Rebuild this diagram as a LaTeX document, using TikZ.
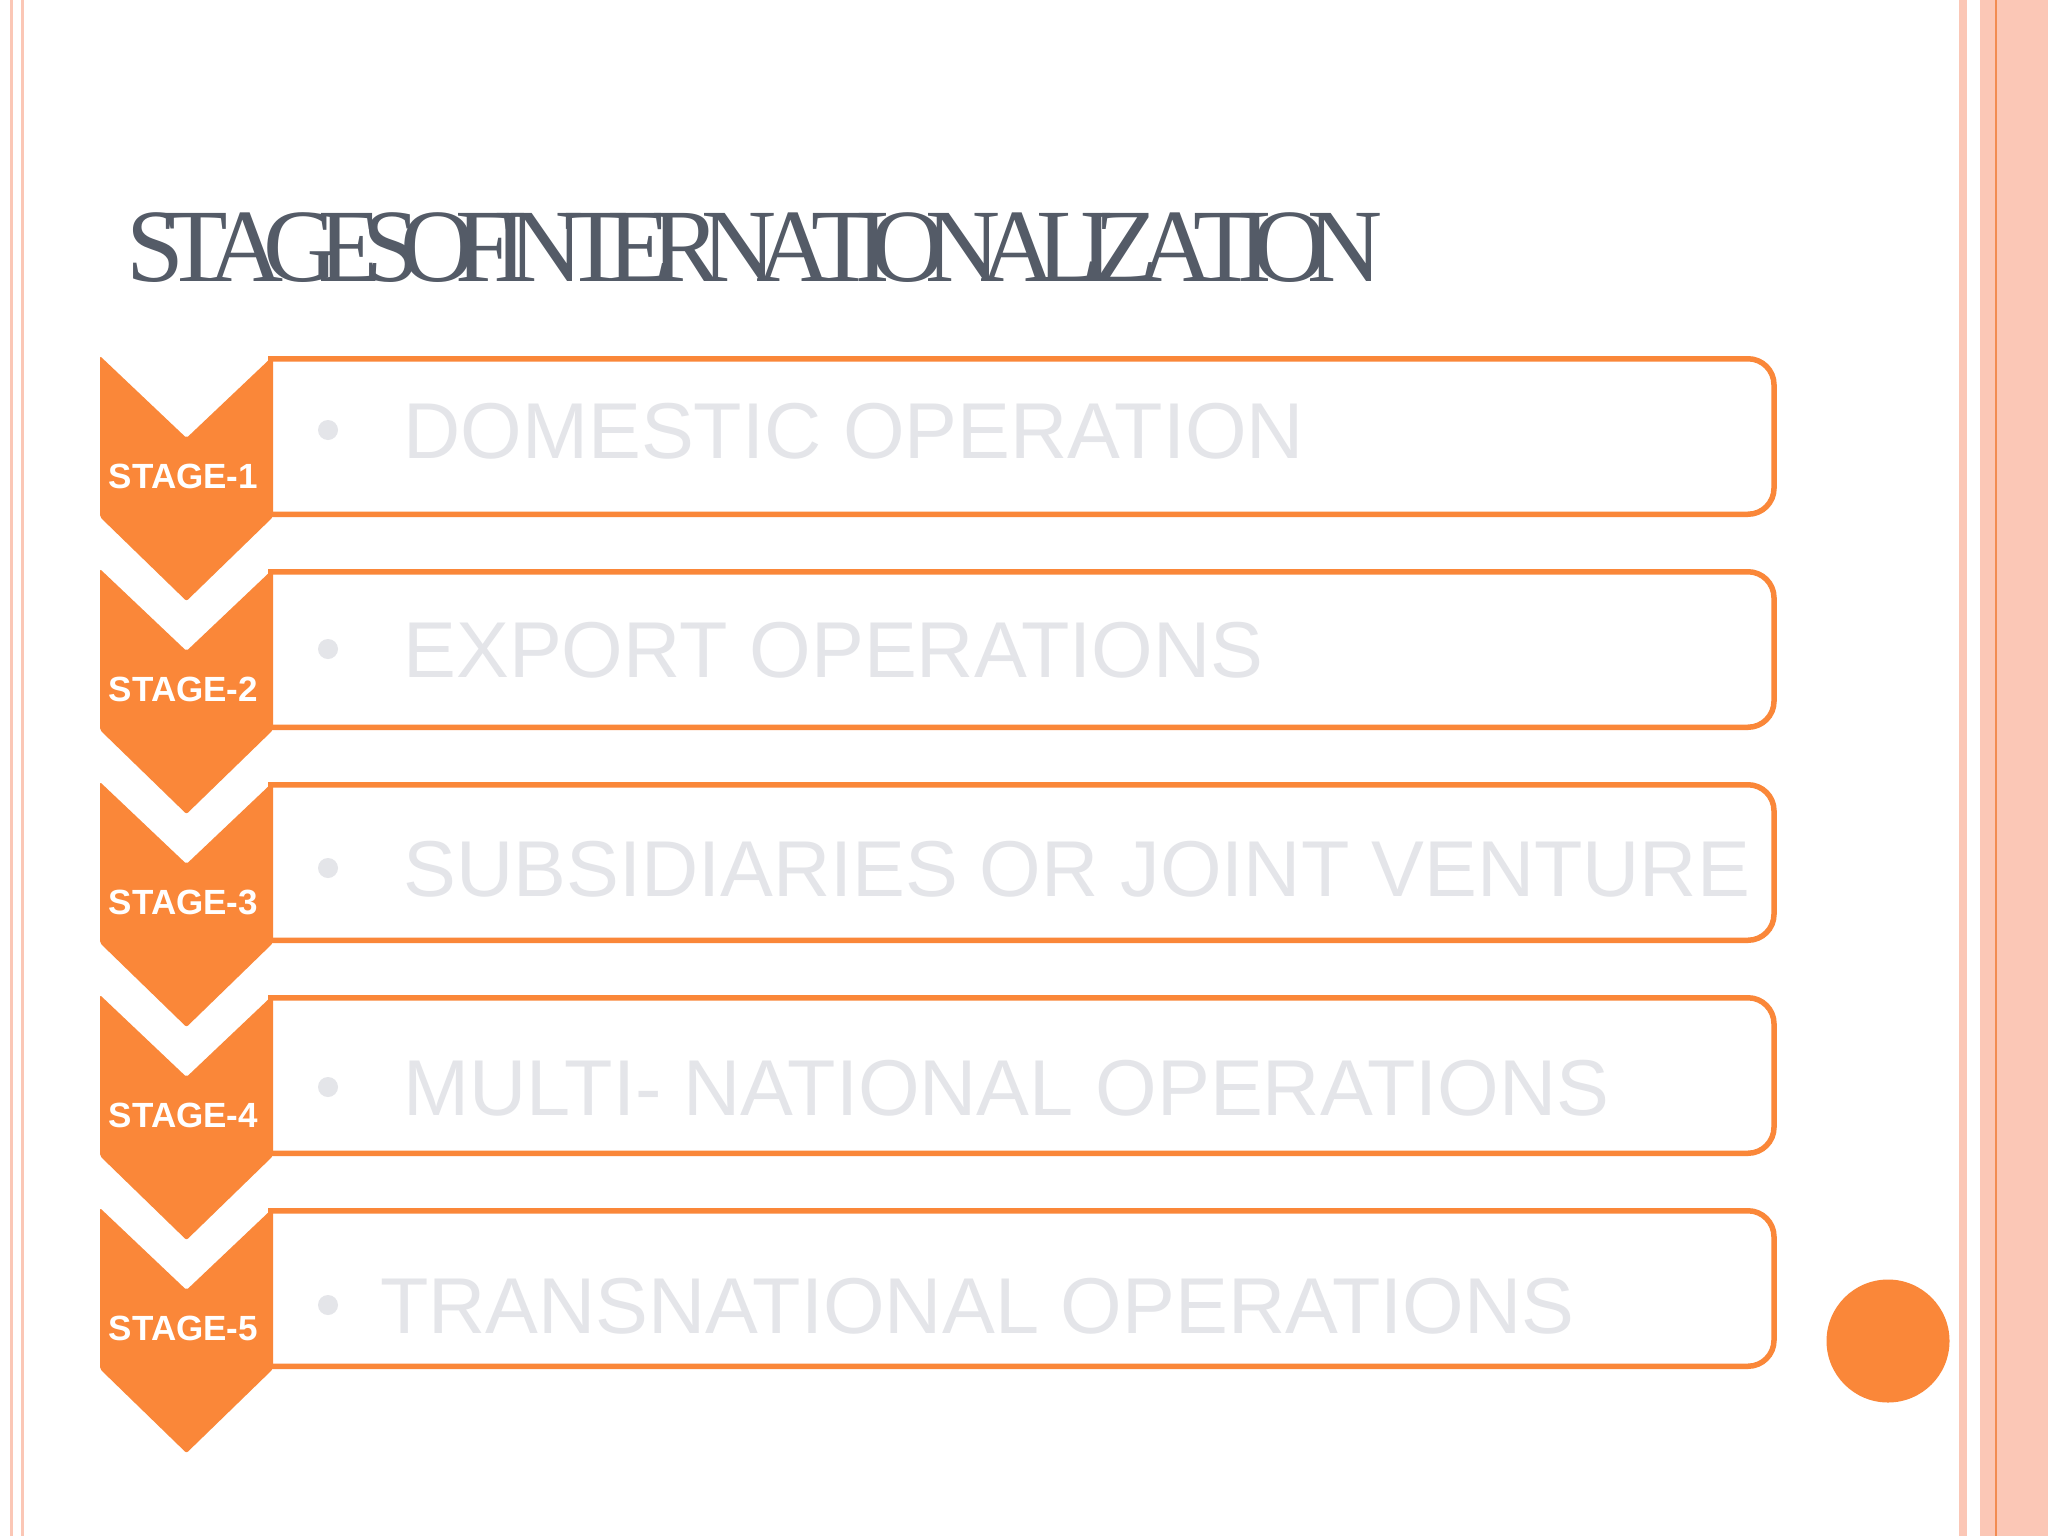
\documentclass[tikz,border=0pt]{standalone}
\usepackage{fontspec}
\setmainfont{Liberation Serif}
\newfontfamily\arialf{Liberation Sans}
\definecolor{orng}{RGB}{250,135,57}
\definecolor{salmon}{RGB}{251,199,182}
\definecolor{lightgr}{RGB}{228,229,233}
\definecolor{titlegr}{RGB}{84,91,103}
\definecolor{bandline}{RGB}{242,140,82}
\newcommand{\tq}{\kern-9.9pt}
\begin{document}
\begin{tikzpicture}[x=0.5pt,y=-0.5pt,
  itembox/.style={draw=orng, line width=2.75pt, fill=white, rounded corners=13pt},
  chevron/.style={fill=orng, rounded corners=1pt},
  stagelbl/.style={text=white, font=\arialf\bfseries\fontsize{17.5}{20}\selectfont, anchor=base, inner sep=0pt},
  itemtxt/.style={text=lightgr, font=\arialf\fontsize{39.6}{44}\selectfont, anchor=base west, inner sep=0pt},
  bulletdot/.style={fill=lightgr},
  titletxt/.style={text=titlegr, font=\fontsize{52}{60}\selectfont, anchor=base west, inner sep=0pt}
]
\useasboundingbox (0,0) rectangle (2048,1536);
\fill[white] (0,0) rectangle (2048,1536);
% left border lines
\fill[salmon] (10,0) rectangle (12.7,1536);
\fill[salmon] (20.7,0) rectangle (24,1536);
% right band
\fill[salmon] (1958.7,0) rectangle (1966.7,1536);
\fill[salmon] (1980,0) rectangle (2048,1536);
\fill[bandline] (1995.3,0) rectangle (1996.8,1536);

% title
\node[titletxt] (title) at (126,281.5) {S\tq T\tq A\tq G\tq E\tq S\tq O\tq F\tq I\tq N\tq T\tq E\tq R\tq N\tq A\tq T\tq I\tq O\tq N\tq A\tq L\tq I\tq Z\tq A\tq T\tq I\tq O\tq N};

% boxes and chevrons
\foreach \i in {1,...,5}{
  \pgfmathsetmacro\T{356+213*(\i-1)}
  \pgfmathsetmacro\Ta{\T+2.75}
  \pgfmathsetmacro\Tb{\T+158.25}
  \path[itembox] (268,\Ta) -- (1774,\Ta) -- (1774,\Tb) -- (268,\Tb);
  \fill[chevron] (100,\T) -- (186.5,\T+82) -- (273,\T) -- (273,\T+161) -- (186.5,\T+245) -- (100,\T+161) -- cycle;
  \node[stagelbl] (stage\i) at (183.5,\T+132.5) {STAGE-\i};
}

% item texts
\node[itemtxt] (item1) at (403,458) {DOMESTIC OPERATION};
\node[itemtxt] (item2) at (403,677) {EXPORT OPERATIONS};
\node[itemtxt] (item3) at (403,896) {SUBSIDIARIES OR JOINT VENTURE};
\node[itemtxt] (item4) at (403,1115) {MULTI- NATIONAL OPERATIONS};
\node[itemtxt] (item5) at (380,1333) {TRANSNATIONAL OPERATIONS};

% bullets
\foreach \b in {458,677,896,1115,1333}{
  \fill[bulletdot] (328,\b-28) circle (5pt);
}

% decorative circle
\fill[orng] (1888,1341) circle (30.75pt);
\end{tikzpicture}
\end{document}
